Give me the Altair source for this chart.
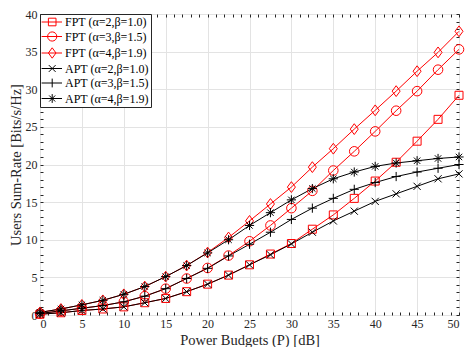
import altair as alt
import pandas as pd

# ---------------- data ----------------
power_db = [0, 2.5, 5, 7.5, 10, 12.5, 15, 17.5, 20, 22.5, 25, 27.5, 30,
            32.5, 35, 37.5, 40, 42.5, 45, 47.5, 50]
series_names = ["FPT (α=2,β=1.0)", "FPT (α=3,β=1.5)", "FPT (α=4,β=1.9)",
                "APT (α=2,β=1.0)", "APT (α=3,β=1.5)", "APT (α=4,β=1.9)"]
fpt_a2 = [0.1, 0.3, 0.6, 0.8, 1.08, 1.63, 2.2, 3.1, 4.1, 5.3, 6.67, 8.1, 9.5,
          11.4, 13.3, 15.5, 17.8, 20.3, 23.1, 26.0, 29.2]
fpt_a3 = [0.2, 0.55, 0.9, 1.25, 1.75, 2.5, 3.5, 4.85, 6.25, 7.9, 9.8, 11.9, 14.2,
          16.5, 19.2, 21.75, 24.4, 27.15, 29.75, 32.6, 35.3]
fpt_a4 = [0.35, 0.8, 1.35, 1.95, 2.75, 3.78, 5.1, 6.57, 8.3, 10.3, 12.5, 14.75, 17.0,
          19.65, 22.1, 24.7, 27.2, 29.75, 32.4, 34.9, 37.7]
apt_a2 = [0.1, 0.3, 0.6, 0.8, 1.08, 1.63, 2.2, 3.1, 4.1, 5.3, 6.67, 8.0, 9.45,
          11.0, 12.5, 13.8, 15.1, 16.1, 17.1, 18.1, 18.75]
apt_a3 = [0.2, 0.55, 0.9, 1.25, 1.75, 2.5, 3.5, 4.85, 6.2, 7.85, 9.4, 11.0, 12.7,
          14.2, 15.5, 16.7, 17.6, 18.4, 19.0, 19.5, 20.0]
apt_a4 = [0.35, 0.8, 1.35, 1.95, 2.75, 3.78, 5.1, 6.57, 8.25, 10.0, 11.9, 13.6, 15.3,
          16.8, 18.1, 19.0, 19.75, 20.2, 20.5, 20.8, 21.0]
series_values = [fpt_a2, fpt_a3, fpt_a4, apt_a2, apt_a3, apt_a4]

x_major = [0, 5, 10, 15, 20, 25, 30, 35, 40, 45, 50]
y_major = [0, 5, 10, 15, 20, 25, 30, 35, 40]
x_minor = list(range(0, 51))
y_minor = list(range(0, 41))

# ---------------- styling ----------------
colors = ["#ff0000", "#ff0000", "#ff0000", "#000000", "#000000", "#000000"]
plot_shapes = [
    "M-1,-1L1,-1L1,1L-1,1Z",                                   # square
    "M-1.2,0A1.2,1.2 0 1,0 1.2,0A1.2,1.2 0 1,0 -1.2,0",         # circle
    "M0,-1.35L1,0L0,1.35L-1,0Z",                                # diamond
    "M-0.9,-0.9L0.9,0.9M-0.9,0.9L0.9,-0.9",                     # x
    "M-1.15,0L1.15,0M0,-1.15L0,1.15",                           # plus
    "M-1.15,0L1.15,0M0,-1.15L0,1.15M-0.8,-0.8L0.8,0.8M-0.8,0.8L0.8,-0.8",  # star
]
L = "M-1.6,0L3.5,0"
legend_shapes = [
    L + "M0.1,-0.95L2.0,-0.95L2.0,0.95L0.1,0.95Z",
    L + "M-0.1,0A1.15,1.15 0 1,0 2.2,0A1.15,1.15 0 1,0 -0.1,0",
    L + "M1.05,-1.3L2.0,0L1.05,1.3L0.1,0Z",
    L + "M0.2,-0.85L1.9,0.85M0.2,0.85L1.9,-0.85",
    L + "M1.05,-1.1L1.05,1.1",
    L + "M1.05,-1.1L1.05,1.1M0.3,-0.75L1.8,0.75M0.3,0.75L1.8,-0.75",
]

FONT = "Liberation Serif"
TXT = "#262626"

rows = []
for name, vals in zip(series_names, series_values):
    for p, v in zip(power_db, vals):
        rows.append({"P": p, "rate": v, "series": name})
df = pd.DataFrame(rows)

base = alt.Chart(df)
xscale = alt.Scale(domain=[0, 50], nice=False)
yscale = alt.Scale(domain=[0, 40], nice=False)


def color_enc(legend=None):
    if legend is None:
        return alt.Color("series:N", scale=alt.Scale(domain=series_names, range=colors), legend=None)
    return alt.Color("series:N", scale=alt.Scale(domain=series_names, range=colors), legend=legend)


lines = base.mark_line(strokeWidth=1).encode(
    x=alt.X("P:Q", scale=xscale,
            axis=alt.Axis(orient="bottom", values=x_major, title="Power Budgets (P) [dB]",
                          grid=True, ticks=False, domain=False, labelPadding=3, titlePadding=4)),
    y=alt.Y("rate:Q", scale=yscale,
            axis=alt.Axis(orient="left", values=y_major, title="Users Sum-Rate [Bits/s/Hz]",
                          grid=True, ticks=False, domain=False, labelPadding=3, titlePadding=2)),
    color=color_enc(),
)

points = base.mark_point(filled=False, size=64, strokeWidth=1, opacity=1).encode(
    x=alt.X("P:Q", scale=xscale,
            axis=alt.Axis(orient="bottom", values=x_minor, labels=False, title=None, grid=False,
                          domain=False, ticks=True, tickSize=3, offset=-3)),
    y=alt.Y("rate:Q", scale=yscale,
            axis=alt.Axis(orient="left", values=y_minor, labels=False, title=None, grid=False,
                          domain=False, ticks=True, tickSize=3, offset=-3)),
    color=color_enc(),
    shape=alt.Shape("series:N", scale=alt.Scale(domain=series_names, range=plot_shapes), legend=None),
)

leg = alt.Legend(orient="none", legendX=0, legendY=0, title=None, fillColor="white",
                 strokeColor=TXT, padding=2, symbolSize=64, symbolStrokeWidth=1,
                 labelFont=FONT, labelFontSize=12, labelColor="black", labelOffset=11,
                 rowPadding=1.5, zindex=1)

legend_layer = base.transform_filter("datum.P < -100").mark_point(
    filled=False, size=64, strokeWidth=1, opacity=1).encode(
    x=alt.X("P:Q", scale=xscale,
            axis=alt.Axis(orient="top", values=x_minor, labels=False, title=None, grid=False,
                          domain=False, ticks=True, tickSize=3, offset=-3)),
    y=alt.Y("rate:Q", scale=yscale,
            axis=alt.Axis(orient="right", values=y_minor, labels=False, title=None, grid=False,
                          domain=False, ticks=True, tickSize=3, offset=-3)),
    color=color_enc(leg),
    shape=alt.Shape("series:N", scale=alt.Scale(domain=series_names, range=legend_shapes), legend=leg),
)

chart = alt.layer(lines, points, legend_layer).resolve_scale(
    color="independent", shape="independent"
).resolve_axis(x="independent", y="independent").properties(
    width=458, height=339,
    autosize=alt.AutoSizeParams(type="fit", contains="padding"),
    padding={"left": 0, "right": 0, "top": 0, "bottom": 0},
).configure_view(stroke=TXT, strokeWidth=1).configure_axis(
    labelFont=FONT, titleFont=FONT, labelFontSize=12, titleFontSize=14.5,
    labelColor=TXT, titleColor=TXT, titleFontWeight="normal",
    gridColor="#e3e3e3", gridWidth=1, tickColor=TXT, tickWidth=1,
)

chart.save("out.html", embed_options={"renderer": "svg", "actions": False})
